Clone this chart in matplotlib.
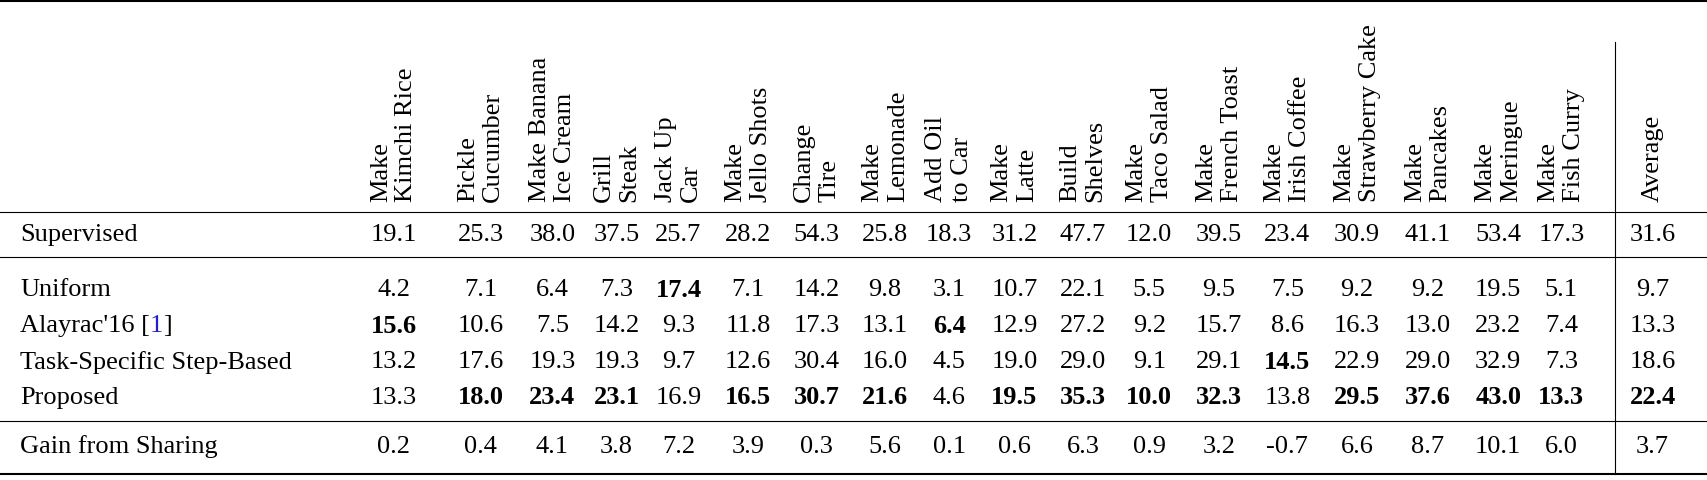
import numpy as np
import matplotlib.pyplot as plt

plt.rcParams['font.family'] = ['Liberation Serif', 'DejaVu Serif']

tasks = ["Make\nKimchi Rice", "Pickle\nCucumber", "Make Banana\nIce Cream", "Grill\nSteak",
         "Jack Up\nCar", "Make\nJello Shots", "Change\nTire", "Make\nLemonade", "Add Oil\nto Car",
         "Make\nLatte", "Build\nShelves", "Make\nTaco Salad", "Make\nFrench Toast",
         "Make\nIrish Coffee", "Make\nStrawberry Cake", "Make\nPancakes", "Make\nMeringue",
         "Make\nFish Curry", "Average"]

supervised = [19.1, 25.3, 38.0, 37.5, 25.7, 28.2, 54.3, 25.8, 18.3, 31.2, 47.7, 12.0, 39.5, 23.4, 30.9, 41.1, 53.4, 17.3, 31.6]
uniform = [4.2, 7.1, 6.4, 7.3, 17.4, 7.1, 14.2, 9.8, 3.1, 10.7, 22.1, 5.5, 9.5, 7.5, 9.2, 9.2, 19.5, 5.1, 9.7]
alayrac = [15.6, 10.6, 7.5, 14.2, 9.3, 11.8, 17.3, 13.1, 6.4, 12.9, 27.2, 9.2, 15.7, 8.6, 16.3, 13.0, 23.2, 7.4, 13.3]
task_specific = [13.2, 17.6, 19.3, 19.3, 9.7, 12.6, 30.4, 16.0, 4.5, 19.0, 29.0, 9.1, 29.1, 14.5, 22.9, 29.0, 32.9, 7.3, 18.6]
proposed = [13.3, 18.0, 23.4, 23.1, 16.9, 16.5, 30.7, 21.6, 4.6, 19.5, 35.3, 10.0, 32.3, 13.8, 29.5, 37.6, 43.0, 13.3, 22.4]
gain = [0.2, 0.4, 4.1, 3.8, 7.2, 3.9, 0.3, 5.6, 0.1, 0.6, 6.3, 0.9, 3.2, -0.7, 6.6, 8.7, 10.1, 6.0, 3.7]

W, H = 1707, 481
fig = plt.figure(figsize=(W / 100, H / 100), dpi=100)
ax = fig.add_axes([0, 0, 1, 1])
ax.set_xlim(0, W)
ax.set_ylim(H, 0)
ax.axis('off')

k = 1707 / 1570  # layout measured on a scaled view
fs = 19
col_x = [k * v for v in [362, 442, 508, 567, 624, 688, 751, 814, 873, 933, 996, 1057,
                         1121, 1184, 1248, 1313, 1378, 1436, 1520]]

# rules
ax.plot([0, W], [2, 2], color='black', lw=1.5)
for y in [196, 237, 388]:
    ax.plot([0, W], [k * y, k * y], color='black', lw=0.8)
ax.plot([0, W], [k * 437, k * 437], color='black', lw=1.5)
ax.plot([k * 1485, k * 1485], [k * 40, k * 437], color='black', lw=0.8)

# header
for x, t in zip(col_x, tasks):
    ax.text(x, k * 186, t, rotation=90, ha='center', va='bottom', multialignment='left', fontsize=fs)

rows = [("Supervised", supervised, 216), ("Uniform", uniform, 267),
        ("Alayrac'16 [1]", alayrac, 300), ("Task-Specific Step-Based", task_specific, 333),
        ("Proposed", proposed, 366), ("Gain from Sharing", gain, 411)]

group = np.array([uniform, alayrac, task_specific, proposed])
best = group.max(axis=0)

for name, vals, y in rows:
    y = k * y
    if name.startswith("Alayrac"):
        t = ax.text(20, y, "Alayrac'16 [", ha='left', va='center', fontsize=fs)
        t2 = ax.annotate("1", xycoords=t, xy=(1, 0.5), va='center', ha='left', fontsize=fs, color='#1f1fd0')
        ax.annotate("]", xycoords=t2, xy=(1, 0.5), va='center', ha='left', fontsize=fs)
    else:
        ax.text(20, y, name, ha='left', va='center', fontsize=fs)
    in_group = vals in (uniform, alayrac, task_specific, proposed)
    for j, (x, v) in enumerate(zip(col_x, vals)):
        bold = in_group and v == best[j]
        ax.text(x, y, f"{v:.1f}", ha='center', va='center', fontsize=fs,
                fontweight='bold' if bold else 'normal')

fig.savefig("out.png", dpi=100)
